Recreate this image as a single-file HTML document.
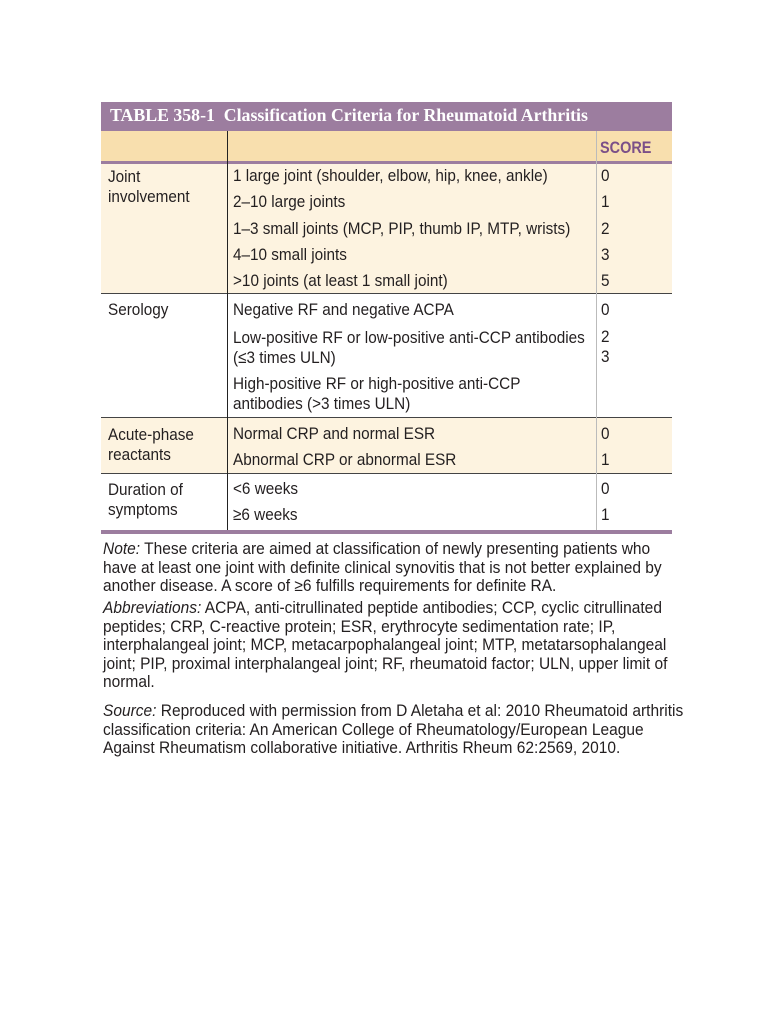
<!DOCTYPE html>
<html><head><meta charset="utf-8"><style>
body{margin:0;width:768px;height:1024px;background:#fff;position:relative;overflow:hidden;font-family:"Liberation Sans",sans-serif;color:#231f20}
.a{position:absolute;white-space:nowrap;font-size:17px;line-height:18px;transform:scaleX(.9);transform-origin:0 0}
.r{position:absolute;left:101px;width:571px}
.v{position:absolute;width:1px}
.n{position:absolute;left:103px;font-size:16.5px;line-height:18.6px;white-space:nowrap;transform:scaleX(.94);transform-origin:0 0}
i{font-style:italic}
</style></head><body>
<div class="r" style="top:102px;height:29px;background:#9c7d9f"></div>
<div class="a" style="left:110px;top:106px;font-family:'Liberation Serif',serif;font-weight:bold;color:#fff;font-size:17.8px;transform:none">TABLE 358-1&nbsp; Classification Criteria for Rheumatoid Arthritis</div>
<div class="r" style="top:131px;height:30px;background:#f8dfae"></div>
<div class="a" style="left:600px;top:139px;color:#7b4f88;font-weight:bold;font-size:17px;transform:scaleX(.85)">SCORE</div>
<div class="r" style="top:161px;height:3px;background:#9c7d9f"></div>
<div class="r" style="top:164px;height:129px;background:#fdf3e0"></div>
<div class="r" style="top:293px;height:1px;background:#444"></div>
<div class="r" style="top:417px;height:1px;background:#444"></div>
<div class="r" style="top:418px;height:55px;background:#fdf3e0"></div>
<div class="r" style="top:473px;height:1px;background:#444"></div>
<div class="r" style="top:530px;height:4px;background:#9c7d9f"></div>
<div class="v" style="left:227px;top:131px;height:399px;background:#222"></div>
<div class="v" style="left:596px;top:131px;height:399px;background:#bbb"></div>

<div class="a" style="left:108px;top:167px;line-height:20px">Joint<br>involvement</div>
<div class="a" style="left:233px;top:167px">1 large joint (shoulder, elbow, hip, knee, ankle)</div>
<div class="a" style="left:233px;top:193px">2–10 large joints</div>
<div class="a" style="left:233px;top:220px">1–3 small joints (MCP, PIP, thumb IP, MTP, wrists)</div>
<div class="a" style="left:233px;top:246px">4–10 small joints</div>
<div class="a" style="left:233px;top:272px">&gt;10 joints (at least 1 small joint)</div>
<div class="a" style="left:601px;top:167px">0</div>
<div class="a" style="left:601px;top:193px">1</div>
<div class="a" style="left:601px;top:220px">2</div>
<div class="a" style="left:601px;top:246px">3</div>
<div class="a" style="left:601px;top:272px">5</div>

<div class="a" style="left:108px;top:301px">Serology</div>
<div class="a" style="left:233px;top:301px">Negative RF and negative ACPA</div>
<div class="a" style="left:233px;top:328px;line-height:20px">Low-positive RF or low-positive anti-CCP antibodies<br>(≤3 times ULN)</div>
<div class="a" style="left:233px;top:374px;line-height:20px">High-positive RF or high-positive anti-CCP<br>antibodies (&gt;3 times ULN)</div>
<div class="a" style="left:601px;top:301px">0</div>
<div class="a" style="left:601px;top:328px">2</div>
<div class="a" style="left:601px;top:348px">3</div>

<div class="a" style="left:108px;top:425px;line-height:20px">Acute-phase<br>reactants</div>
<div class="a" style="left:233px;top:425px">Normal CRP and normal ESR</div>
<div class="a" style="left:233px;top:451px">Abnormal CRP or abnormal ESR</div>
<div class="a" style="left:601px;top:425px">0</div>
<div class="a" style="left:601px;top:451px">1</div>

<div class="a" style="left:108px;top:480px;line-height:20px">Duration of<br>symptoms</div>
<div class="a" style="left:233px;top:480px">&lt;6 weeks</div>
<div class="a" style="left:233px;top:506px">≥6 weeks</div>
<div class="a" style="left:601px;top:480px">0</div>
<div class="a" style="left:601px;top:506px">1</div>

<div class="n" style="top:540px"><i>Note:</i> These criteria are aimed at classification of newly presenting patients who<br>have at least one joint with definite clinical synovitis that is not better explained by<br>another disease. A score of ≥6 fulfills requirements for definite RA.</div>
<div class="n" style="top:599px"><i>Abbreviations:</i> ACPA, anti-citrullinated peptide antibodies; CCP, cyclic citrullinated<br>peptides; CRP, C-reactive protein; ESR, erythrocyte sedimentation rate; IP,<br>interphalangeal joint; MCP, metacarpophalangeal joint; MTP, metatarsophalangeal<br>joint; PIP, proximal interphalangeal joint; RF, rheumatoid factor; ULN, upper limit of<br>normal.</div>
<div class="n" style="top:702px"><i>Source:</i> Reproduced with permission from D Aletaha et al: 2010 Rheumatoid arthritis<br>classification criteria: An American College of Rheumatology/European League<br>Against Rheumatism collaborative initiative. Arthritis Rheum 62:2569, 2010.</div>
</body></html>
